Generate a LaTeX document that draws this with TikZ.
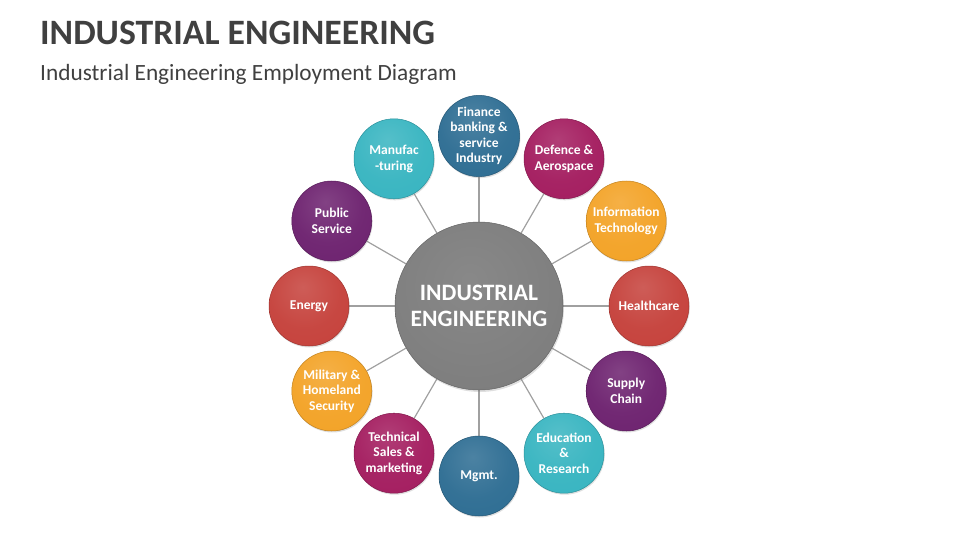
\documentclass[tikz,border=0pt]{standalone}
\usepackage{fontspec}
\setmainfont{Carlito}
\usetikzlibrary{shadows,backgrounds}
\definecolor{titlegray}{HTML}{404040}
\definecolor{cblue}{HTML}{2C6C92}
\definecolor{cmag}{HTML}{A31B5E}
\definecolor{corange}{HTML}{F3A225}
\definecolor{cred}{HTML}{C5403A}
\definecolor{cpurple}{HTML}{6C206E}
\definecolor{cteal}{HTML}{36B4C0}
\definecolor{cgray}{HTML}{7E7E7E}
\definecolor{linegray}{HTML}{A0A0A0}
\newcommand{\defbtn}[2]{%
  \pgfdeclareradialshading{btn#1}{\pgfpoint{-4bp}{12bp}}{%
    color(0bp)=(#2!85!white);
    color(22bp)=(#2!96!white);
    color(45bp)=(#2);
    color(58bp)=(#2!85!black);
    color(70bp)=(#2!75!black)}}
\defbtn{blue}{cblue}
\defbtn{mag}{cmag}
\defbtn{orange}{corange}
\defbtn{red}{cred}
\defbtn{purple}{cpurple}
\defbtn{teal}{cteal}
\pgfdeclareradialshading{btngray}{\pgfpoint{-3bp}{8bp}}{%
    color(0bp)=(cgray!92!white);
    color(30bp)=(cgray);
    color(50bp)=(cgray!92!black);
    color(62bp)=(cgray!80!black)}
\tikzset{
  btn/.style={circle, minimum size=80pt, inner sep=0pt, align=center,
    text=white, font={\bfseries\fontsize{13.5}{15.5}\selectfont},
    shading=btn#1, draw=c#1!80!black, line width=0.5pt,
    drop shadow={shadow xshift=0.8pt, shadow yshift=-1.5pt, opacity=0.25}},
  hub/.style={circle, minimum size=168pt, inner sep=0pt, align=center,
    text=white, font={\bfseries\fontsize{23.5}{25.5}\selectfont},
    shading=btngray, draw=cgray!80!black, line width=0.5pt,
    drop shadow={shadow xshift=1pt, shadow yshift=-2pt, opacity=0.25}},
  spoke/.style={draw=linegray, line width=1.2pt}
}
\begin{document}
\begin{tikzpicture}[x=1pt,y=-1pt]
\useasboundingbox (0,0) rectangle (960,540);
\node[anchor=base west, text=titlegray, font={\bfseries\fontsize{35.7}{40}\selectfont}, inner sep=0pt] (title) at (40,45) {INDUSTRIAL ENGINEERING};
\node[anchor=base west, text=titlegray, font={\fontsize{23.3}{27}\selectfont}, inner sep=0pt] (subtitle) at (40,81) {Industrial Engineering Employment Diagram};

\node[hub] (hub) at (479,306) {INDUSTRIAL\\ENGINEERING};

\node[btn=blue]   (fin)  at (479,136)   {Finance\\banking \&\\service\\Industry};
\node[btn=mag]    (def)  at (564,158.8) {Defence \&\\Aerospace};
\node[btn=orange] (it)   at (626.2,221) {Information\\Technology};
\node[btn=red]    (hc)   at (649,306)   {Healthcare};
\node[btn=purple] (sc)   at (626.2,391) {Supply\\Chain};
\node[btn=teal]   (edu)  at (564,453.2) {Education\\\&\\Research};
\node[btn=blue]   (mgmt) at (479,476)   {Mgmt.};
\node[btn=mag]    (ts)   at (394,453.2) {Technical\\Sales \&\\marketing};
\node[btn=orange] (mil)  at (331.8,391) {Military \&\\Homeland\\Security};
\node[btn=red]    (en)   at (309,306)   {Energy};
\node[btn=purple] (ps)   at (331.8,221) {Public\\Service};
\node[btn=teal]   (man)  at (394,158.8) {Manufac\\-turing};

\begin{pgfonlayer}{background}
\foreach \n in {fin,def,it,hc,sc,edu,mgmt,ts,mil,en,ps,man}
  \draw[spoke] (hub) -- (\n);
\end{pgfonlayer}
\end{tikzpicture}
\end{document}
